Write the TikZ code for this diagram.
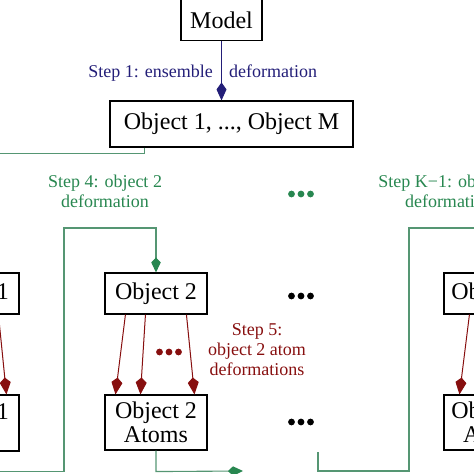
\documentclass[tikz,border=0pt]{standalone}
\usepackage{fontspec}
\setmainfont{Liberation Serif}
\usetikzlibrary{arrows.meta,calc}
\definecolor{stepblue}{RGB}{35,30,120}
\definecolor{stepgreen}{RGB}{40,135,80}
\definecolor{stepline}{RGB}{85,150,115}
\definecolor{stepred}{RGB}{135,15,15}

\begin{document}
\begin{tikzpicture}[x=1pt, y=-1pt,
    box/.style={draw, line width=1.1pt, inner sep=0pt, minimum width=102pt, minimum height=41pt, align=center, font=\fontsize{24}{24}\selectfont},
    lbl/.style={inner sep=0pt, align=center, font=\fontsize{18}{20}\selectfont},
    dots/.style={inner sep=0pt, minimum width=27pt, minimum height=8pt,
      path picture={\foreach \d in {-9.5,0,9.5}
        \fill[#1] ($(path picture bounding box.center)+(\d,0)$) circle (3.4pt);}},
    dots/.default=black,
    blueedge/.style={-{Kite[length=18pt, width=10pt, inset=7pt]}, draw=stepblue, line width=1pt},
    greenedge/.style={-{Kite[length=15pt, width=9.5pt, inset=5pt, color=stepgreen]}, draw=stepline, line width=1.1pt},
    rededge/.style={-{Kite[length=17pt, width=11pt, inset=5pt]}, draw=stepred, line width=1pt}]
  \useasboundingbox (0,0) rectangle (474,474);
  \clip (0,0) rectangle (474,474);

  % boxes
  \node[box, minimum width=81pt] (model) at (221.5,20) {Model};
  \node[box, minimum width=243pt, minimum height=46pt] (allobj) at (231.5,124) {Object 1, ..., Object M};
  \node[box] (obj1) at (-32,293.5) {Object 1};
  \node[box, minimum height=56pt] (atoms1) at (-32,423) {Object 1\\Atoms};
  \node[box] (obj2) at (156,293.5) {Object 2};
  \node[box, minimum height=55pt] (atoms2) at (156,422.5) {Object 2\\Atoms};
  \node[box] (objk) at (495,293.5) {Object K};
  \node[box, minimum height=55pt] (atomsk) at (495,422.5) {Object K\\Atoms};

  % ellipses
  \node[dots=stepgreen] (dotsgreen) at (301,194) {};
  \node[dots] (dotsobj) at (301,296) {};
  \node[dots=stepred] (dotsred) at (169,352) {};
  \node[dots] (dotsatoms) at (301,422) {};
  \coordinate (dotsin) at (243,471);
  \coordinate (dotsout) at (318,452);

  % step 1
  \draw[blueedge] (model.south) -- (model.south |- allobj.north);
  \node[lbl, text=stepblue, anchor=base east] (step1a) at (213,77) {Step 1: ensemble};
  \node[lbl, text=stepblue, anchor=base west] (step1b) at (229,77) {deformation};

  % object deformations
  \draw[greenedge] ($(allobj.south west)+(35,0)$) -- ++(0,5.5) -| (obj1.north);
  \draw[greenedge] (atoms1.south) -- ++(0,19.5) -| (64,228) -| (obj2.north);
  \node[lbl, text=stepgreen, anchor=north] (step4) at (105,174.5) {Step 4: object 2\\deformation};
  \draw[greenedge] (atoms2.south) -- ++(0,21) -- (dotsin);
  \draw[greenedge] (dotsout) -- ++(0,19) -| (409,228) -| (objk.north);
  \node[lbl, text=stepgreen, anchor=north] (stepk) at (449,174.5) {Step K−1: object K\\deformation};

  % atom deformations
  \foreach \a/\b in {21/11, 41/36, 82/90} {
    \draw[rededge] ($(obj1.south west)+(\a,0)$) -- ($(atoms1.north west)+(\b,0)$);
    \draw[rededge] ($(obj2.south west)+(\a,0)$) -- ($(atoms2.north west)+(\b,0)$);
  }
  \draw[rededge] ($(objk.south west)+(26,0)$) -- ($(atomsk.north west)+(16,0)$);
  \node[lbl, text=stepred, anchor=north] (step5) at (257,323) {Step 5:\\object 2 atom\\deformations};
\end{tikzpicture}
\end{document}
